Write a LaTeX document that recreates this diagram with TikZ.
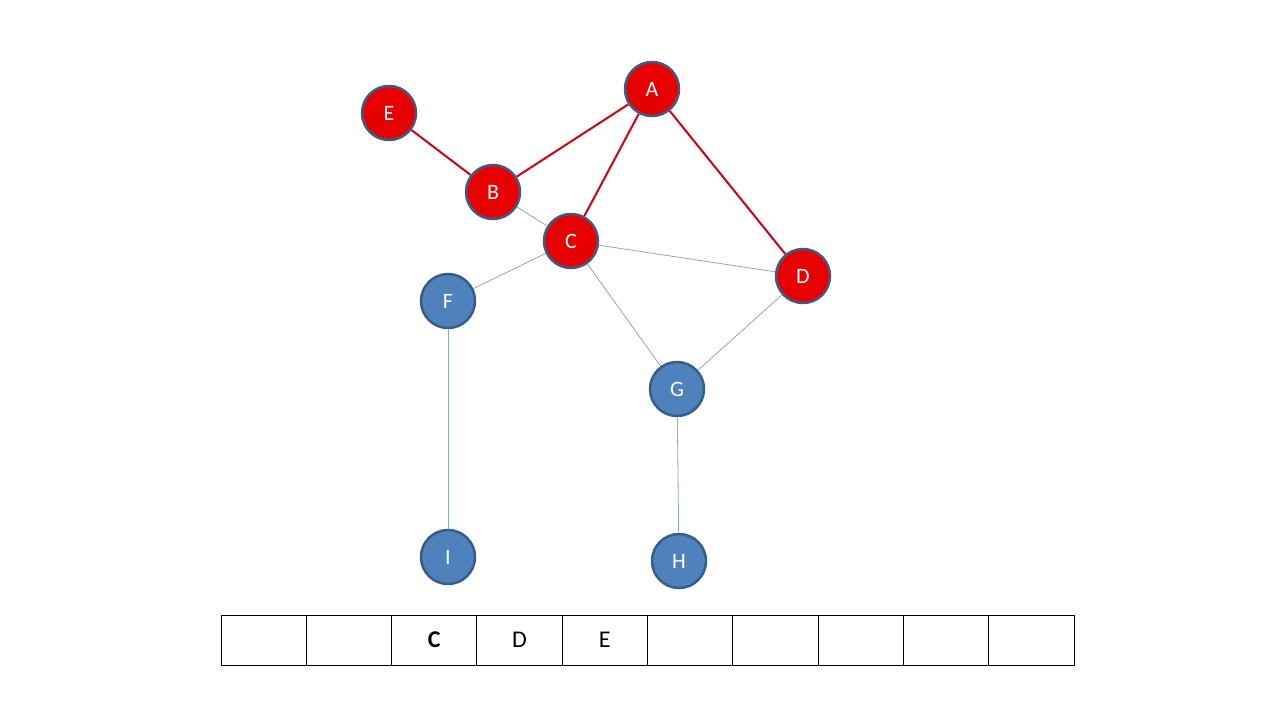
\documentclass[tikz,border=0pt]{standalone}
\usepackage{fontspec}
\setmainfont{Carlito}
\begin{document}
\begin{tikzpicture}[x=1pt,y=-1pt,
  vred/.style={circle,minimum size=54pt,inner sep=0pt,fill={rgb,255:red,230;green,0;blue,0},draw={rgb,255:red,65;green,90;blue,130},line width=2.5pt,text=white,font=\fontsize{22}{24}\selectfont},
  vblue/.style={vred,fill={rgb,255:red,79;green,129;blue,189},draw={rgb,255:red,56;green,93;blue,138}},
  redge/.style={draw={rgb,255:red,210;green,0;blue,20},line width=2pt},
  bedge/.style={draw={rgb,255:red,140;green,165;blue,200},line width=0.8pt},
  cell/.style={draw=black,line width=1pt,minimum width=85.3pt,minimum height=50pt,inner sep=0pt,font=\fontsize{24}{26}\selectfont}]
\useasboundingbox (0,0) rectangle (1280,720);
\node[vred] (E) at (389,113) {E};
\node[vred] (A) at (652,89) {A};
\node[vred] (B) at (493,192) {B};
\node[vred] (C) at (571,241) {C};
\node[vred] (D) at (803,276) {D};
\node[vblue] (F) at (448,301) {F};
\node[vblue] (G) at (677,389) {G};
\node[vblue] (I) at (448,557) {I};
\node[vblue] (H) at (679,561) {H};
\begin{scope}[on background layer/.style={}]
\end{scope}
\draw[redge] (E) -- (B);
\draw[redge] (B) -- (A);
\draw[redge] (A) -- (C);
\draw[redge] (A) -- (D);
\draw[bedge] (B) -- (C);
\draw[bedge] (C) -- (D);
\draw[bedge] (C) -- (F);
\draw[bedge] (C) -- (G);
\draw[bedge] (D) -- (G);
\draw[bedge] (F) -- (I);
\draw[bedge] (G) -- (H);
\foreach \i/\t in {0/,1/,2/\textbf{C},3/D,4/E,5/,6/,7/,8/,9/}{
  \node[cell] (c\i) at ({263.65+85.3*\i},640) {\t};
}
\end{tikzpicture}
\end{document}
